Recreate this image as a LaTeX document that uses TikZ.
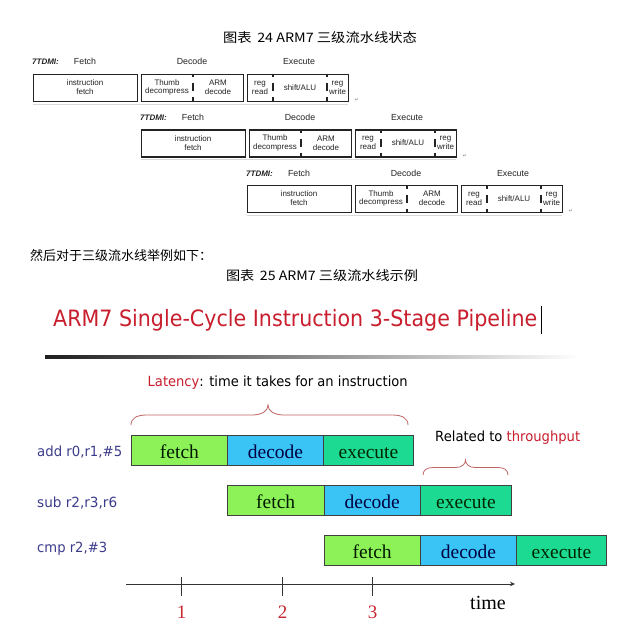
\documentclass[tikz,border=0pt]{standalone}
\usepackage{fontspec}
\usepackage{graphicx}
\setmainfont{Liberation Serif}
\setsansfont{Liberation Sans}
\newfontfamily\cjk{Noto Sans CJK SC}
\newfontfamily\dvs{DejaVu Sans}
\usetikzlibrary{arrows.meta}
\newcommand\fitto[2]{\resizebox{#1}{\height}{#2}}
\definecolor{titred}{RGB}{200,30,45}
\definecolor{bracered}{RGB}{192,100,100}
\definecolor{insblue}{RGB}{60,60,140}
\definecolor{fgreen}{RGB}{140,242,88}
\definecolor{dblue}{RGB}{58,196,246}
\definecolor{eteal}{RGB}{28,218,146}
\definecolor{boxline}{RGB}{64,64,64}
\definecolor{numred}{RGB}{200,40,50}
\definecolor{topink}{RGB}{35,35,35}
\begin{document}
\begin{tikzpicture}[x=1pt,y=-1pt,
  pbox/.style={draw=topink, line width=1.4pt, minimum height=27pt, inner sep=0pt, anchor=north west},
  ptxt/.style={font=\sffamily\fontsize{8}{8.8}\selectfont, text=topink, align=center, inner sep=0pt},
  stglbl/.style={font=\sffamily\fontsize{8.8}{9}\selectfont, text=topink, inner sep=0pt, anchor=base},
  tdmi/.style={font=\sffamily\bfseries\itshape\fontsize{8}{8}\selectfont, text=topink, inner sep=0pt, anchor=base west},
  divl/.style={line width=1.1pt, draw=topink},
  retm/.style={font=\dvs\fontsize{5}{5}\selectfont, text=gray, inner sep=0pt},
  stage/.style={draw=boxline, line width=0.9pt, minimum height=30pt, inner sep=0pt, anchor=north west, text height=16pt, text depth=0pt, font=\fontsize{19.5}{19.5}\selectfont},
  fbox/.style={stage, fill=fgreen, text=black!90!green},
  dbox/.style={stage, fill=dblue, text=black!75!blue},
  ebox/.style={stage, fill=eteal, text=black!85!green},
  inslbl/.style={font=\dvs\fontsize{14}{14}\selectfont, text=insblue, inner sep=0pt, anchor=west},
  brace/.style={draw=bracered, line width=0.8pt},
  numlbl/.style={font=\fontsize{19}{19}\selectfont, text=numred, inner sep=0pt},
  capt/.style={font=\cjk\fontsize{13}{13}\selectfont, text=black, inner sep=0pt},
]
\fill[white] (0,0) rectangle (623,639);
\useasboundingbox (0,0) rectangle (623,639);

% caption 24
\node[capt] (cap24) at (320,38) {\fitto{194pt}{图表\hspace{0.4em}24 ARM7 三级流水线状态}};

\foreach \r/\dx/\dy in {1/0/0,2/108/55.5,3/214/111}{
 \begin{scope}[shift={(\dx,\dy)}]
  \node[tdmi] (tdmi\r) at (32,65) {7TDMI:};
  \node[stglbl] (lf\r) at (85,65) {Fetch};
  \node[stglbl] (ld\r) at (192,65) {Decode};
  \node[stglbl] (le\r) at (299,65) {Execute};
  \draw[gray!30, line width=0.6pt] (33,104) -- (348,104);
  \node[pbox, minimum width=104pt] (bf\r) at (33,74) {};
  \node[pbox, minimum width=102pt] (bd\r) at (141,74) {};
  \node[pbox, minimum width=101pt] (be\r) at (247,74) {};
  \node[ptxt] (tf\r) at (85,87.5) {instruction\\fetch};
  \node[ptxt] (tt\r) at (167,87.5) {Thumb\\decompress};
  \node[ptxt] (ta\r) at (218,87.5) {ARM\\decode};
  \node[ptxt] (tr\r) at (260,87.5) {reg\\read};
  \node[ptxt] (ts\r) at (300,87.5) {shift/ALU};
  \node[ptxt] (tw\r) at (337.5,87.5) {reg\\write};
  \foreach \xx in {193,273,327}{
    \draw[divl] (\xx,74) -- (\xx,77.5);
    \draw[divl] (\xx,83.5) -- (\xx,91.5);
    \draw[divl] (\xx,97.5) -- (\xx,101);
  }
  \node[retm] (rm\r) at (357,100) {↵};
 \end{scope}
}

\node[font=\cjk\fontsize{13}{13}\selectfont, anchor=west, inner sep=0pt] (intro) at (30,256) {然后对于三级流水线举例如下：};
\node[capt] (cap25) at (322,276) {\fitto{192pt}{图表\hspace{0.4em}25 ARM7 三级流水线示例}};

% title
\node[font=\dvs\fontsize{22.5}{22.5}\selectfont, text=titred, inner sep=0pt, anchor=base west] (title) at (53,326.5) {\fitto{484pt}{ARM7 Single-Cycle Instruction 3-Stage Pipeline}};
\coordinate (cur1) at (541,306);
\coordinate (cur2) at (541,334);
\draw[black, line width=0.9pt] (cur1) -- (cur2);
\shade[left color=black!88, right color=white] (45,355.5) rectangle (580,358.5);

% annotations
\node[font=\dvs\fontsize{14}{14}\selectfont, inner sep=0pt, anchor=west] (lat) at (147.5,383) {\fitto{260pt}{\textcolor{titred}{Latency}: time it takes for an instruction}};
\node[font=\dvs\fontsize{14}{14}\selectfont, inner sep=0pt, anchor=west] (rel) at (435,438) {\fitto{145pt}{Related to \textcolor{titred}{throughput}}};

% pipeline boxes
\node[fbox, minimum width=96pt] (Af) at (131,435) {fetch};
\node[dbox, minimum width=96pt] (Ad) at (227,435) {decode};
\node[ebox, minimum width=90pt] (Ae) at (323,435) {execute};
\node[fbox, minimum width=96.5pt] (Bf) at (227,485) {fetch};
\node[dbox, minimum width=96.5pt] (Bd) at (323.5,485) {decode};
\node[ebox, minimum width=91pt] (Be) at (420,485) {execute};
\node[fbox, minimum width=96.5pt] (Cf) at (323.5,535) {fetch};
\node[dbox, minimum width=96pt] (Cd) at (420,535) {decode};
\node[ebox, minimum width=90pt] (Ce) at (516,535) {execute};

\node[inslbl] (iadd) at (37,452) {\fitto{85pt}{add r0,r1,\#5}};
\node[inslbl] (isub) at (37,503) {\fitto{80pt}{sub r2,r3,r6}};
\node[inslbl] (icmp) at (37,548.5) {\fitto{70pt}{cmp r2,\#3}};

% braces
\draw[brace] (131,425) .. controls (131,418) and (137,415) .. (147,415) -- (252,415) .. controls (262,415) and (268,411) .. (268,405) .. controls (268,411) and (274,415) .. (284,415) -- (392,415) .. controls (402,415) and (408,418) .. (408,425);
\draw[brace] (423,475) .. controls (423,470) and (427,467.5) .. (433,467.5) -- (456,467.5) .. controls (462,467.5) and (465.5,464) .. (465.5,460) .. controls (465.5,464) and (469,467.5) .. (475,467.5) -- (498,467.5) .. controls (504,467.5) and (508,470) .. (508,475);

% time axis
\coordinate (ax0) at (126,584);
\coordinate (ax1) at (515,584);
\draw[draw=black!80, line width=0.8pt, -{Stealth[length=5pt,width=4.5pt]}] (ax0) -- (ax1);
\foreach \tx/\n in {181/1,282/2,372/3}{
  \draw[black!80, line width=0.8pt] (\tx,577) -- (\tx,596);
  \node[numlbl] (n\n) at (\tx+0.5,612) {\n};
}
\node[font=\fontsize{20}{20}\selectfont, inner sep=0pt] (time) at (488,603) {time};
\end{tikzpicture}
\end{document}
